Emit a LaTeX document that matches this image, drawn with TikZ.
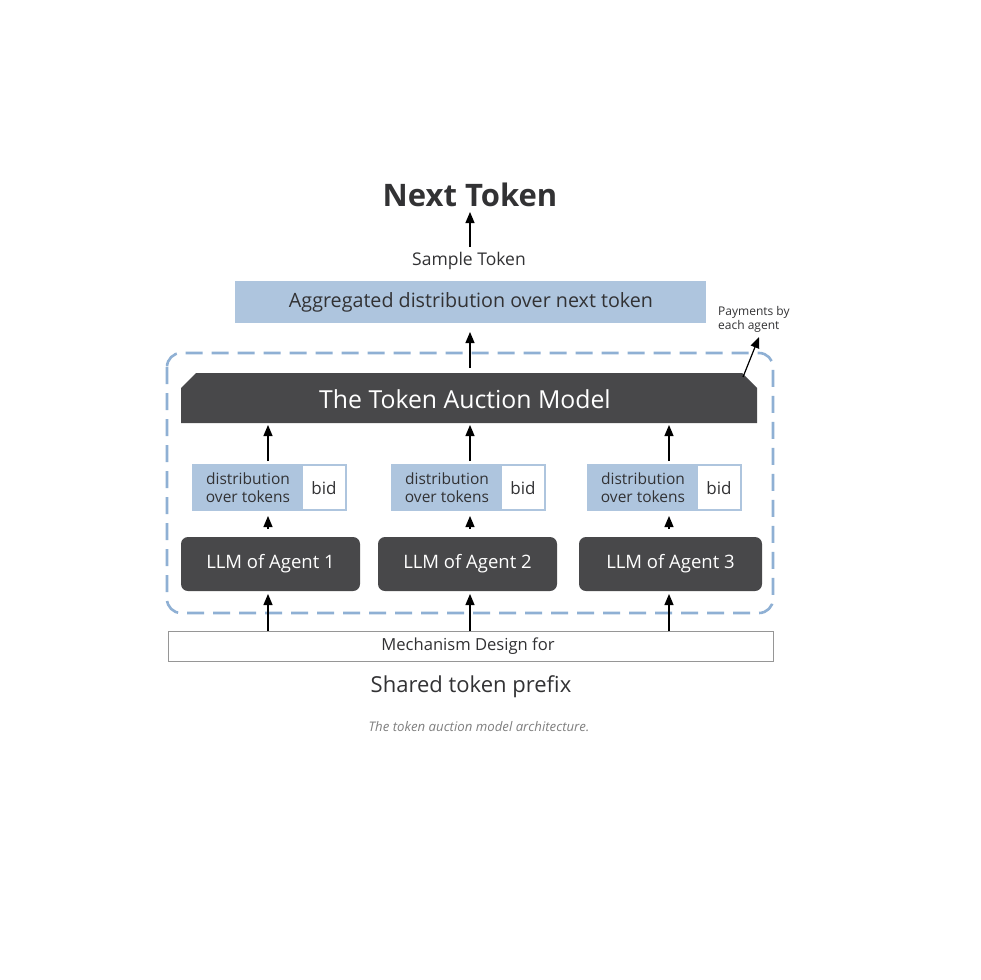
\documentclass[tikz,border=0pt]{standalone}
\usepackage{fontspec}
\setmainfont{Open Sans}
\usetikzlibrary{arrows.meta}
\definecolor{txt}{RGB}{50,50,52}
\definecolor{lblue}{RGB}{174,197,222}
\definecolor{dblue}{RGB}{143,176,212}
\definecolor{dgray}{RGB}{72,72,74}
\definecolor{bordgray}{RGB}{150,150,150}
\tikzset{
  arr/.style={-{Triangle[width=9pt,length=11pt]}, line width=1.2pt, draw=black},
  darkbox/.style={fill=dgray, rounded corners=7pt, text=white, font=\fontsize{18.5}{21}\selectfont},
  lbl/.style={text=txt, inner sep=0pt},
}
\begin{document}
\begin{tikzpicture}[x=1pt,y=-1pt]
\useasboundingbox[fill=white] (0,0) rectangle (980,980);
% dashed frame
\draw[dblue, line width=2.6pt, dash pattern=on 17pt off 9pt, rounded corners=14pt] (167,353) rectangle (773,613);
% top
\node[lbl, font=\bfseries\fontsize{31}{34}\selectfont] (next) at (470,195) {Next Token};
\node[lbl, font=\fontsize{17.5}{20}\selectfont] (sample) at (469,261) {Sample Token};
\fill[lblue] (235,281) rectangle (706,323);
\node[lbl, font=\fontsize{19.7}{22}\selectfont] (agg) at (471,302) {Aggregated distribution over next token};
% token auction model
\fill[dgray] (181,423) -- (181,388) -- (196,373) -- (742,373) -- (757,388) -- (757,423) -- cycle;
\node[text=white, inner sep=0pt, font=\fontsize{24.8}{28}\selectfont] (tam) at (465,399) {The Token Auction Model};
% distribution boxes
\foreach \i/\x in {1/193,2/392,3/588}{
  \fill[lblue] (\x,465) rectangle (\x+110,510);
  \draw[lblue, line width=1.3pt] (\x,465) rectangle (\x+153,510);
  \node[lbl, align=center, font=\fontsize{15.5}{17.5}\selectfont] (dist\i) at (\x+55,487.5) {distribution\\over tokens};
  \node[lbl, font=\fontsize{17}{19}\selectfont] (bid\i) at (\x+131,488) {bid};
}
% LLM boxes
\node[darkbox, minimum width=179pt, minimum height=54pt] (llm1) at (270.5,564) {LLM of Agent 1};
\node[darkbox, minimum width=179pt, minimum height=54pt] (llm2) at (467.5,564) {LLM of Agent 2};
\node[darkbox, minimum width=183pt, minimum height=54pt] (llm3) at (670.5,564) {LLM of Agent 3};
% mechanism
\draw[bordgray, line width=0.9pt] (168,631) rectangle (773,661);
\node[lbl, font=\fontsize{16.6}{19}\selectfont] (mech) at (468,646) {Mechanism Design for};
\node[lbl, font=\fontsize{22}{25}\selectfont] (shared) at (471,687) {Shared token prefix};
\node[text=gray, inner sep=0pt, font=\itshape\fontsize{13.2}{15}\selectfont] (cap) at (479,727) {The token auction model architecture.};
\node[lbl, align=left, anchor=north west, font=\fontsize{12}{14}\selectfont] (pay) at (718,306) {Payments by\\each agent};
% arrows
\draw[arr] (470,247) -- (470,212);
\draw[arr] (470,368) -- (470,332);
\foreach \x in {268,470,669}{
  \draw[arr] (\x,461) -- (\x,425);
  \draw[arr] (\x,529) -- (\x,516);
  \draw[arr] (\x,631) -- (\x,594);
}
\draw[arr] (743,377) -- (759,337);
\end{tikzpicture}
\end{document}
